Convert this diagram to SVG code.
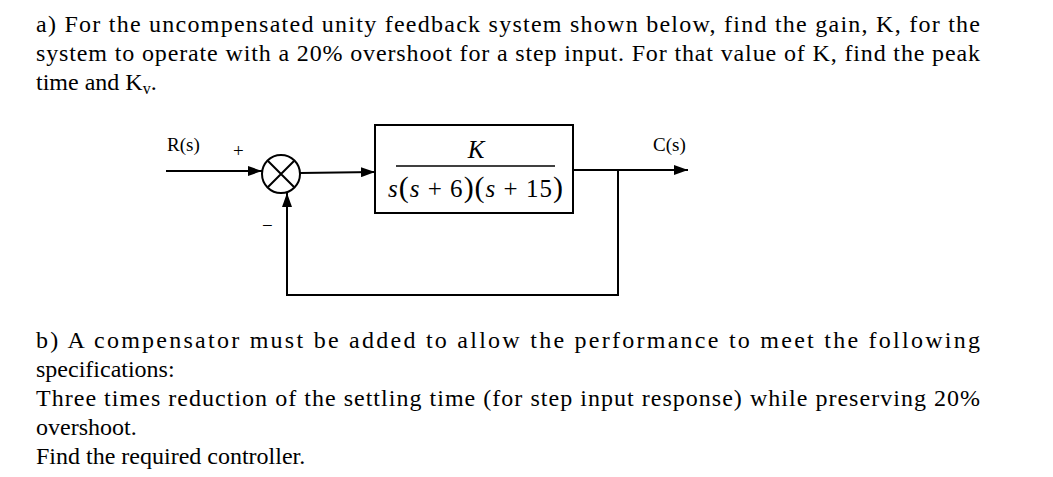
<svg xmlns="http://www.w3.org/2000/svg" width="1053" height="477" viewBox="0 0 1053 477">
<style>
.t{font-family:"Liberation Serif",serif;font-size:24px;fill:#000}
.d{font-family:"Liberation Serif",serif;font-size:19px;fill:#000}
.m{font-family:"Liberation Serif",serif;font-size:25px;font-style:italic;fill:#000}
.l{stroke:#000;stroke-width:2;fill:none}
</style>
<defs><marker id="a" markerWidth="14" markerHeight="10" refX="14" refY="5" orient="auto" markerUnits="userSpaceOnUse"><path d="M0,0L14,5L0,10z" fill="#000"/></marker></defs>
<rect width="1053" height="477" fill="#fff"/>
<text class="t" x="36" y="32" textLength="944" lengthAdjust="spacing">a) For the uncompensated unity feedback system shown below, find the gain, K, for the</text>
<text class="t" x="36" y="61" textLength="944" lengthAdjust="spacing">system to operate with a 20% overshoot for a step input. For that value of K, find the peak</text>
<text class="t" x="36" y="90">time and K<tspan font-size="16" dy="4">v</tspan><tspan dy="-4">.</tspan></text>
<g id="sum"><circle cx="281" cy="174" r="19" class="l"/><path d="M268,161L294,187M294,161L268,187" class="l"/></g>
<g id="plant"><rect x="375" y="125" width="198" height="88" class="l"/>
<text class="m" x="476" y="158" text-anchor="middle">K</text>
<line x1="396" y1="166" x2="555" y2="166" stroke="#000" stroke-width="1.5"/>
<text class="m" x="476" y="197" text-anchor="middle" letter-spacing="1">s<tspan font-style="normal" font-size="30">(</tspan>s<tspan font-style="normal"> + 6</tspan><tspan font-style="normal" font-size="30">)(</tspan>s<tspan font-style="normal"> + 15</tspan><tspan font-style="normal" font-size="30">)</tspan></text></g>
<g id="connectors">
<path d="M166,171H262" class="l" marker-end="url(#a)"/>
<path d="M300,173L375,172" class="l" marker-end="url(#a)"/>
<path d="M573,170H688" class="l" marker-end="url(#a)"/>
<path d="M618,170V295H287V193" class="l" marker-end="url(#a)"/>
</g>
<text class="d" x="167" y="151">R(s)</text>
<text class="d" x="233" y="157" font-size="22">+</text>
<text class="d" x="262" y="232" font-size="22">−</text>
<text class="d" x="653" y="151">C(s)</text>
<text class="t" x="36" y="348" textLength="944" lengthAdjust="spacing">b) A compensator must be added to allow the performance to meet the following</text>
<text class="t" x="36" y="377">specifications:</text>
<text class="t" x="36" y="406" textLength="944" lengthAdjust="spacing">Three times reduction of the settling time (for step input response) while preserving 20%</text>
<text class="t" x="36" y="435">overshoot.</text>
<text class="t" x="36" y="464">Find the required controller.</text>
</svg>
